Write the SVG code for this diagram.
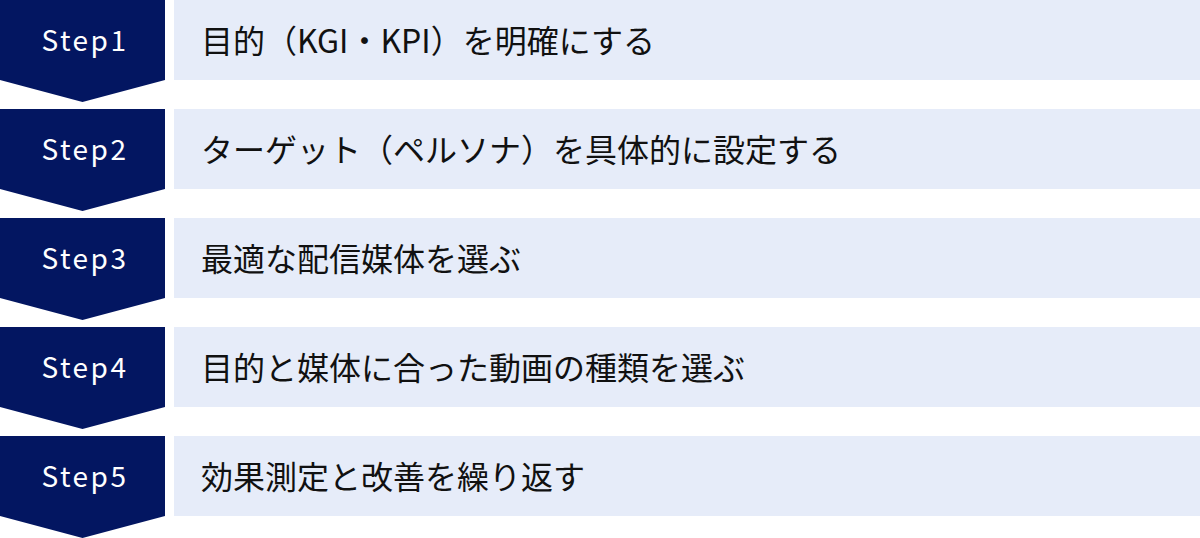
<svg xmlns="http://www.w3.org/2000/svg" width="1200" height="538" viewBox="0 0 1200 538">
<style>
.chev{fill:#031661}
.box{fill:#e6ecf9}
.st{font-family:"Noto Sans CJK JP","Noto Sans",sans-serif;font-size:28px;fill:#ffffff;letter-spacing:2.5px;text-anchor:middle;dominant-baseline:central}
.tx{font-family:"Noto Sans CJK JP","Noto Sans",sans-serif;font-size:32px;fill:#111111;dominant-baseline:central}
</style>
<rect width="1200" height="538" fill="#ffffff"/>
<g id="step1">
<path class="chev" d="M0 0H165V80L82.5 102L0 80Z"/>
<rect class="box" x="174" y="0" width="1026" height="80"/>
<text class="st" x="85" y="39">Step1</text>
<text class="tx" x="201" y="39">目的（KGI・KPI）を明確にする</text>
</g>
<g id="step2">
<path class="chev" d="M0 109H165V189L82.5 211L0 189Z"/>
<rect class="box" x="174" y="109" width="1026" height="80"/>
<text class="st" x="85" y="148">Step2</text>
<text class="tx" x="201" y="148">ターゲット（ペルソナ）を具体的に設定する</text>
</g>
<g id="step3">
<path class="chev" d="M0 218H165V298L82.5 320L0 298Z"/>
<rect class="box" x="174" y="218" width="1026" height="80"/>
<text class="st" x="85" y="257">Step3</text>
<text class="tx" x="201" y="257">最適な配信媒体を選ぶ</text>
</g>
<g id="step4">
<path class="chev" d="M0 327H165V407L82.5 429L0 407Z"/>
<rect class="box" x="174" y="327" width="1026" height="80"/>
<text class="st" x="85" y="366">Step4</text>
<text class="tx" x="201" y="366">目的と媒体に合った動画の種類を選ぶ</text>
</g>
<g id="step5">
<path class="chev" d="M0 436H165V516L82.5 538L0 516Z"/>
<rect class="box" x="174" y="436" width="1026" height="80"/>
<text class="st" x="85" y="475">Step5</text>
<text class="tx" x="201" y="475">効果測定と改善を繰り返す</text>
</g>
<g id="connectors"/>
</svg>
